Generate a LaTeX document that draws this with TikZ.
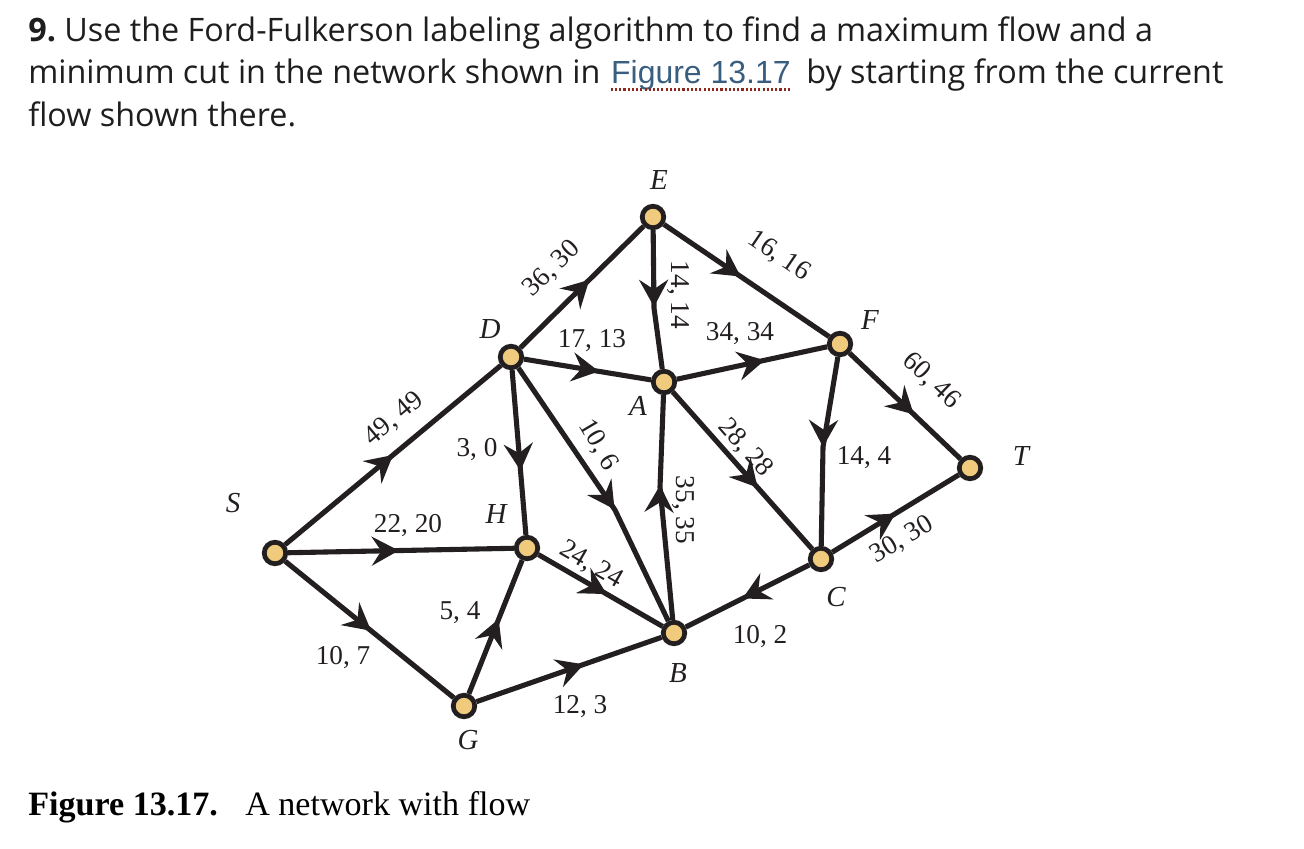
\documentclass[tikz,border=0pt]{standalone}
\usepackage{fontspec}
\setmainfont{Liberation Serif}
\newfontfamily\qfont{Open Sans}
\newfontfamily\linkfont{Liberation Sans}
\usetikzlibrary{arrows.meta,decorations.markings}
\definecolor{ink}{RGB}{35,31,32}
\definecolor{vfill}{RGB}{240,203,125}
\definecolor{qcol}{RGB}{30,30,30}
\definecolor{linkblue}{RGB}{58,94,128}
\definecolor{linkred}{RGB}{140,40,30}

\begin{document}
\begin{tikzpicture}[x=0.02cm,y=-0.02cm,
  vtx/.style={circle,draw=ink,fill=vfill,line width=2.7pt,minimum size=0.43cm,inner sep=0pt},
  netedge/.style={draw=ink,line width=2.9pt},
  flowtip/.style={postaction={decorate,decoration={markings,
    mark=at position #1 with {\arrow{Stealth[length=0.54cm,width=0.58cm,inset=0.19cm]}}}}},
  lbl/.style={text=ink,font=\fontsize{15.5}{18}\selectfont,inner sep=0pt},
  vname/.style={text=ink,font=\fontsize{16.5}{19}\selectfont\itshape,inner sep=0pt},
  qtext/.style={text=qcol,font=\qfont\fontsize{18.4}{22}\selectfont,inner sep=0pt,anchor=base west}]
\useasboundingbox (0,0) rectangle (1304,848);

\node[qtext] (q1) at (28,42) {\textbf{9.}\ Use the Ford-Fulkerson labeling algorithm to find a maximum flow and a};
\node[qtext] (q2) at (28,84) {minimum cut in the network shown in};
\node[qtext,text=linkblue,font=\linkfont\fontsize{18.2}{22}\selectfont] (fig) at ([xshift=0.2cm]q2.base east) {Figure 13.17};
\node[qtext] (q3) at ([xshift=0.3cm]fig.base east) {by starting from the current};
\node[qtext] (q4) at (28,127) {flow shown there.};
\draw[linkred,line width=1.2pt,dash pattern=on 1.2pt off 1.2pt] ([yshift=-0.11cm]fig.base west) -- ([yshift=-0.11cm]fig.base east);

\node[vtx] (S) at (275,553) {};
\node[vtx] (D) at (511,357) {};
\node[vtx] (E) at (653,217) {};
\node[vtx] (A) at (664,382) {};
\node[vtx] (F) at (840,344) {};
\node[vtx] (T) at (970,468) {};
\node[vtx] (H) at (527,548) {};
\node[vtx] (C) at (821,559) {};
\node[vtx] (B) at (674,633) {};
\node[vtx] (G) at (464,706) {};
\coordinate (ea) at (654,308);
\coordinate (fc) at (823,447);
\coordinate (ba) at (660,487);
\coordinate (db) at (615,510);

\draw[netedge,flowtip=0.5] (S) -- (D);
\draw[netedge,flowtip=0.49] (S) -- (H);
\draw[netedge,flowtip=0.51] (S) -- (G);
\draw[netedge,flowtip=0.56] (D) -- (E);
\draw[netedge,flowtip=0.59] (D) -- (A);
\draw[netedge,flowtip=0.61] (D) -- (H);
\draw[netedge,flowtip=0.58] (D) -- (db) -- (B);
\draw[netedge,flowtip=0.465] (E) -- (F);
\draw[netedge,flowtip=0.55] (E) -- (ea) -- (A);
\draw[netedge,flowtip=0.585] (A) -- (F);
\draw[netedge,flowtip=0.61] (A) -- (C);
\draw[netedge,flowtip=0.58] (F) -- (T);
\draw[netedge,flowtip=0.48] (F) -- (fc) -- (C);
\draw[netedge,flowtip=0.5] (C) -- (T);
\draw[netedge,flowtip=0.54] (C) -- (B);
\draw[netedge,flowtip=0.55] (H) -- (B);
\draw[netedge,flowtip=0.56] (G) -- (H);
\draw[netedge,flowtip=0.58] (G) -- (B);
\draw[netedge,flowtip=0.6] (B) -- (ba) -- (A);

\node[vname] (nS) at (233,503) {S};
\node[vname] (nD) at (490,329) {D};
\node[vname] (nE) at (659,180) {E};
\node[vname] (nA) at (638,406) {A};
\node[vname] (nF) at (870,320) {F};
\node[vname] (nT) at (1021,456) {T};
\node[vname] (nH) at (496,514) {H};
\node[vname] (nC) at (836,597) {C};
\node[vname] (nB) at (678,673) {B};
\node[vname] (nG) at (468,740) {G};

\node[lbl,rotate=39.7] (lSD) at (394,419) {49, 49};
\node[lbl,rotate=44.6] (lDE) at (552,269) {36, 30};
\node[lbl,rotate=-34.2] (lEF) at (779,256) {16, 16};
\node[lbl,rotate=-90] (lEA) at (678,295) {14, 14};
\node[lbl] (lDA) at (592,341) {17, 13};
\node[lbl] (lAF) at (740,334) {34, 34};
\node[lbl,rotate=-43.6] (lFT) at (931,381) {60, 46};
\node[lbl] (lFC) at (864,458) {14, 4};
\node[lbl,rotate=-48.4] (lAC) at (745,448) {28, 28};
\node[lbl] (lDH) at (477,450) {3, 0};
\node[lbl,rotate=-59.4] (lDB) at (598,445) {10, 6};
\node[lbl,rotate=-90] (lBA) at (683,510) {35, 35};
\node[lbl] (lSH) at (408,526) {22, 20};
\node[lbl,rotate=-30] (lHB) at (591,565) {24, 24};
\node[lbl,rotate=31.4] (lCT) at (902,540) {30, 30};
\node[lbl] (lCB) at (760,637) {10, 2};
\node[lbl] (lSG) at (343,658) {10, 7};
\node[lbl] (lGH) at (460,613) {5, 4};
\node[lbl] (lGB) at (580,707) {12, 3};

\node[anchor=base west,inner sep=0pt,font=\fontsize{19.4}{22}\selectfont] (cap) at (28,815) {\textbf{Figure 13.17.}\hspace{0.8em}A network with flow};
\end{tikzpicture}
\end{document}
